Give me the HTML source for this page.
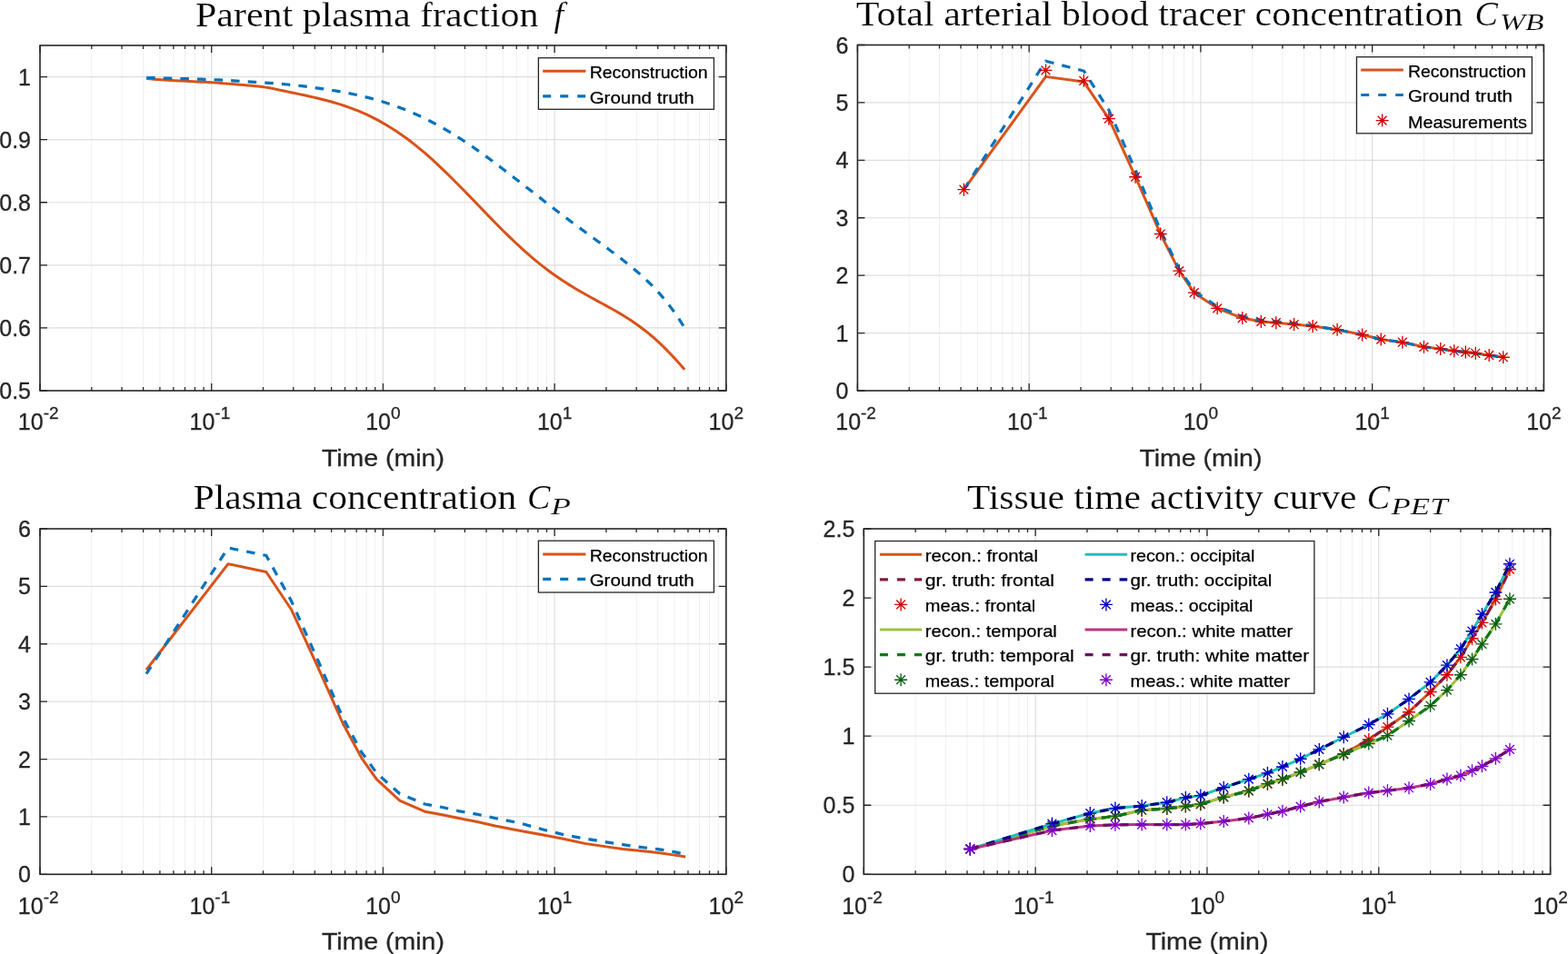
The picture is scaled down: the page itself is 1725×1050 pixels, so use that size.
<!DOCTYPE html>
<html><head><meta charset="utf-8"><title>Figure</title><style>
html,body{margin:0;padding:0;background:#fff;}
body{width:1725px;height:1050px;overflow:hidden;}
svg{display:block;}
.gm{stroke:#f0f0f0;stroke-width:1;}
.gM{stroke:#dedede;stroke-width:1.2;}
.box{fill:none;stroke:#262626;stroke-width:1.6;}
.tk{fill:none;stroke:#262626;stroke-width:1.3;}
.tl{font-family:'Liberation Sans', Arial, sans-serif;font-size:25px;fill:#262626;stroke:#262626;stroke-width:0.3px;}
.sup{font-size:19px;}
.xl{font-family:'Liberation Sans', Arial, sans-serif;font-size:26px;fill:#262626;stroke:#262626;stroke-width:0.3px;}
.ti{font-family:'Liberation Serif', 'Times New Roman', serif;font-size:38px;fill:#000;stroke:#fff;stroke-width:0.2px;}
.it{font-style:italic;}
.sub{font-size:27px;}
.cs{fill:none;stroke-width:3;stroke-linejoin:round;}
.cd{fill:none;stroke-width:3.2;stroke-dasharray:9.5 9.1;}
.st{fill:none;stroke-width:1.35;}
.lgb{fill:#fff;stroke:#262626;stroke-width:1.3;}
.ls{stroke-width:3;}
.ld{stroke-width:3.2;stroke-dasharray:9 10;}
.lt{font-family:'Liberation Sans', Arial, sans-serif;font-size:18.5px;fill:#000;stroke:#000;stroke-width:0.25px;}
</style></head>
<body><svg width="1725" height="1050" viewBox="0 0 1725 1050">
<rect width="1725" height="1050" fill="#fff"/>
<line x1="100.8" y1="50" x2="100.8" y2="430" class="gm"/>
<line x1="134.03" y1="50" x2="134.03" y2="430" class="gm"/>
<line x1="157.61" y1="50" x2="157.61" y2="430" class="gm"/>
<line x1="175.9" y1="50" x2="175.9" y2="430" class="gm"/>
<line x1="190.84" y1="50" x2="190.84" y2="430" class="gm"/>
<line x1="203.47" y1="50" x2="203.47" y2="430" class="gm"/>
<line x1="214.41" y1="50" x2="214.41" y2="430" class="gm"/>
<line x1="224.07" y1="50" x2="224.07" y2="430" class="gm"/>
<line x1="289.5" y1="50" x2="289.5" y2="430" class="gm"/>
<line x1="322.73" y1="50" x2="322.73" y2="430" class="gm"/>
<line x1="346.31" y1="50" x2="346.31" y2="430" class="gm"/>
<line x1="364.6" y1="50" x2="364.6" y2="430" class="gm"/>
<line x1="379.54" y1="50" x2="379.54" y2="430" class="gm"/>
<line x1="392.17" y1="50" x2="392.17" y2="430" class="gm"/>
<line x1="403.11" y1="50" x2="403.11" y2="430" class="gm"/>
<line x1="412.77" y1="50" x2="412.77" y2="430" class="gm"/>
<line x1="478.2" y1="50" x2="478.2" y2="430" class="gm"/>
<line x1="511.43" y1="50" x2="511.43" y2="430" class="gm"/>
<line x1="535.01" y1="50" x2="535.01" y2="430" class="gm"/>
<line x1="553.3" y1="50" x2="553.3" y2="430" class="gm"/>
<line x1="568.24" y1="50" x2="568.24" y2="430" class="gm"/>
<line x1="580.87" y1="50" x2="580.87" y2="430" class="gm"/>
<line x1="591.81" y1="50" x2="591.81" y2="430" class="gm"/>
<line x1="601.47" y1="50" x2="601.47" y2="430" class="gm"/>
<line x1="666.9" y1="50" x2="666.9" y2="430" class="gm"/>
<line x1="700.13" y1="50" x2="700.13" y2="430" class="gm"/>
<line x1="723.71" y1="50" x2="723.71" y2="430" class="gm"/>
<line x1="742" y1="50" x2="742" y2="430" class="gm"/>
<line x1="756.94" y1="50" x2="756.94" y2="430" class="gm"/>
<line x1="769.57" y1="50" x2="769.57" y2="430" class="gm"/>
<line x1="780.51" y1="50" x2="780.51" y2="430" class="gm"/>
<line x1="790.17" y1="50" x2="790.17" y2="430" class="gm"/>
<line x1="232.7" y1="50" x2="232.7" y2="430" class="gM"/>
<line x1="421.4" y1="50" x2="421.4" y2="430" class="gM"/>
<line x1="610.1" y1="50" x2="610.1" y2="430" class="gM"/>
<line x1="44" y1="360.91" x2="798.8" y2="360.91" class="gM"/>
<line x1="44" y1="291.82" x2="798.8" y2="291.82" class="gM"/>
<line x1="44" y1="222.73" x2="798.8" y2="222.73" class="gM"/>
<line x1="44" y1="153.64" x2="798.8" y2="153.64" class="gM"/>
<line x1="44" y1="84.55" x2="798.8" y2="84.55" class="gM"/>
<polyline points="161.2,86.6 165.17,86.87 169.15,87.14 173.12,87.41 177.09,87.67 181.07,87.93 185.04,88.18 189.01,88.42 192.99,88.66 196.96,88.9 200.93,89.12 204.9,89.33 208.88,89.53 212.85,89.73 216.82,89.93 220.8,90.13 224.77,90.34 228.74,90.57 232.72,90.81 236.69,91.07 240.66,91.35 244.64,91.65 248.61,91.96 252.58,92.28 256.56,92.61 260.53,92.94 264.5,93.27 268.48,93.6 272.45,93.93 276.42,94.28 280.39,94.66 284.37,95.08 288.34,95.54 292.31,96.12 296.29,96.82 300.26,97.58 304.23,98.38 308.21,99.2 312.18,100.03 316.15,100.85 320.13,101.67 324.1,102.5 328.07,103.35 332.05,104.2 336.02,105.07 339.99,105.94 343.97,106.84 347.94,107.74 351.91,108.69 355.88,109.68 359.86,110.72 363.83,111.81 367.8,112.94 371.78,114.14 375.75,115.39 379.72,116.71 383.7,118.1 387.67,119.56 391.64,121.1 395.62,122.72 399.59,124.42 403.56,126.21 407.54,128.09 411.51,130.07 415.48,132.14 419.46,134.31 423.43,136.58 427.4,138.95 431.37,141.42 435.35,143.99 439.32,146.67 443.29,149.45 447.27,152.33 451.24,155.32 455.21,158.4 459.19,161.58 463.16,164.85 467.13,168.22 471.11,171.68 475.08,175.22 479.05,178.84 483.03,182.53 487,186.3 490.97,190.13 494.94,194.02 498.92,197.97 502.89,201.96 506.86,205.99 510.84,210.06 514.81,214.15 518.78,218.26 522.76,222.38 526.73,226.51 530.7,230.64 534.68,234.76 538.65,238.86 542.62,242.93 546.6,246.97 550.57,250.98 554.54,254.94 558.52,258.84 562.49,262.69 566.46,266.48 570.43,270.19 574.41,273.84 578.38,277.4 582.35,280.88 586.33,284.28 590.3,287.59 594.27,290.81 598.25,293.94 602.22,296.98 606.19,299.93 610.17,302.79 614.14,305.56 618.11,308.24 622.09,310.85 626.06,313.37 630.03,315.83 634.01,318.21 637.98,320.54 641.95,322.82 645.92,325.05 649.9,327.25 653.87,329.43 657.84,331.59 661.82,333.74 665.79,335.91 669.76,338.09 673.74,340.31 677.71,342.57 681.68,344.89 685.66,347.28 689.63,349.75 693.6,352.31 697.58,354.98 701.55,357.77 705.52,360.68 709.5,363.72 713.47,366.91 717.44,370.24 721.41,373.73 725.39,377.37 729.36,381.16 733.33,385.1 737.31,389.18 741.28,393.4 745.25,397.73 749.23,402.16 753.2,406.67" class="cs" stroke="#d95319"/>
<polyline points="161.2,85.5 165.17,85.61 169.15,85.71 173.12,85.82 177.09,85.93 181.07,86.04 185.04,86.15 189.01,86.27 192.99,86.38 196.96,86.5 200.93,86.61 204.9,86.72 208.88,86.84 212.85,86.95 216.82,87.06 220.8,87.19 224.77,87.31 228.74,87.45 232.72,87.6 236.69,87.77 240.66,87.95 244.64,88.15 248.61,88.36 252.58,88.58 256.56,88.81 260.53,89.05 264.5,89.3 268.48,89.55 272.45,89.81 276.42,90.08 280.39,90.35 284.37,90.62 288.34,90.89 292.31,91.15 296.29,91.41 300.26,91.69 304.23,91.99 308.21,92.31 312.18,92.65 316.15,93.01 320.13,93.39 324.1,93.79 328.07,94.22 332.05,94.67 336.02,95.15 339.99,95.67 343.97,96.21 347.94,96.8 351.91,97.39 355.88,97.95 359.86,98.54 363.83,99.15 367.8,99.79 371.78,100.45 375.75,101.15 379.72,101.88 383.7,102.65 387.67,103.46 391.64,104.3 395.62,105.18 399.59,106.11 403.56,107.09 407.54,108.11 411.51,109.18 415.48,110.3 419.46,111.48 423.43,112.71 427.4,114 431.37,115.34 435.35,116.75 439.32,118.22 443.29,119.74 447.27,121.33 451.24,122.99 455.21,124.71 459.19,126.49 463.16,128.34 467.13,130.26 471.11,132.24 475.08,134.29 479.05,136.4 483.03,138.57 487,140.81 490.97,143.11 494.94,145.48 498.92,147.9 502.89,150.38 506.86,152.92 510.84,155.51 514.81,158.16 518.78,160.85 522.76,163.59 526.73,166.38 530.7,169.22 534.68,172.09 538.65,175 542.62,177.94 546.6,180.91 550.57,183.92 554.54,186.94 558.52,189.99 562.49,193.06 566.46,196.14 570.43,199.24 574.41,202.34 578.38,205.45 582.35,208.56 586.33,211.67 590.3,214.77 594.27,217.87 598.25,220.97 602.22,224.05 606.19,227.12 610.17,230.18 614.14,233.22 618.11,236.24 622.09,239.25 626.06,242.24 630.03,245.22 634.01,248.18 637.98,251.12 641.95,254.05 645.92,256.97 649.9,259.88 653.87,262.78 657.84,265.69 661.82,268.6 665.79,271.52 669.76,274.45 673.74,277.41 677.71,280.4 681.68,283.43 685.66,286.51 689.63,289.65 693.6,292.86 697.58,296.16 701.55,299.56 705.52,303.07 709.5,306.71 713.47,310.49 717.44,314.44 721.41,318.58 725.39,322.92 729.36,327.49 733.33,332.3 737.31,337.39 741.28,342.78 745.25,348.5 749.23,354.57 753.2,361.03" class="cd" stroke="#0072bd"/>
<path d="M44 430v-8M44 50v8M100.8 430v-4M100.8 50v4M134.03 430v-4M134.03 50v4M157.61 430v-4M157.61 50v4M175.9 430v-4M175.9 50v4M190.84 430v-4M190.84 50v4M203.47 430v-4M203.47 50v4M214.41 430v-4M214.41 50v4M224.07 430v-4M224.07 50v4M232.7 430v-8M232.7 50v8M289.5 430v-4M289.5 50v4M322.73 430v-4M322.73 50v4M346.31 430v-4M346.31 50v4M364.6 430v-4M364.6 50v4M379.54 430v-4M379.54 50v4M392.17 430v-4M392.17 50v4M403.11 430v-4M403.11 50v4M412.77 430v-4M412.77 50v4M421.4 430v-8M421.4 50v8M478.2 430v-4M478.2 50v4M511.43 430v-4M511.43 50v4M535.01 430v-4M535.01 50v4M553.3 430v-4M553.3 50v4M568.24 430v-4M568.24 50v4M580.87 430v-4M580.87 50v4M591.81 430v-4M591.81 50v4M601.47 430v-4M601.47 50v4M610.1 430v-8M610.1 50v8M666.9 430v-4M666.9 50v4M700.13 430v-4M700.13 50v4M723.71 430v-4M723.71 50v4M742 430v-4M742 50v4M756.94 430v-4M756.94 50v4M769.57 430v-4M769.57 50v4M780.51 430v-4M780.51 50v4M790.17 430v-4M790.17 50v4M798.8 430v-8M798.8 50v8M44 430h8M798.8 430h-8M44 360.91h8M798.8 360.91h-8M44 291.82h8M798.8 291.82h-8M44 222.73h8M798.8 222.73h-8M44 153.64h8M798.8 153.64h-8M44 84.55h8M798.8 84.55h-8" class="tk"/>
<rect x="44" y="50" width="754.8" height="380" class="box"/>
<text x="34" y="439" class="tl" text-anchor="end">0.5</text>
<text x="34" y="369.91" class="tl" text-anchor="end">0.6</text>
<text x="34" y="300.82" class="tl" text-anchor="end">0.7</text>
<text x="34" y="231.73" class="tl" text-anchor="end">0.8</text>
<text x="34" y="162.64" class="tl" text-anchor="end">0.9</text>
<text x="34" y="93.55" class="tl" text-anchor="end">1</text>
<text x="42.2" y="473.3" class="tl" text-anchor="middle">10<tspan dy="-12" class="sup">-2</tspan></text>
<text x="230.9" y="473.3" class="tl" text-anchor="middle">10<tspan dy="-12" class="sup">-1</tspan></text>
<text x="421.4" y="473.3" class="tl" text-anchor="middle">10<tspan dy="-12" class="sup">0</tspan></text>
<text x="610.1" y="473.3" class="tl" text-anchor="middle">10<tspan dy="-12" class="sup">1</tspan></text>
<text x="798.8" y="473.3" class="tl" text-anchor="middle">10<tspan dy="-12" class="sup">2</tspan></text>
<text x="421.4" y="512.7" class="xl" text-anchor="middle" textLength="135" lengthAdjust="spacingAndGlyphs">Time (min)</text>
<rect x="592.4" y="63.7" width="193" height="56.6" class="lgb"/>
<line x1="597.2" y1="78.2" x2="644.4" y2="78.2" stroke="#d95319" class="ls"/>
<line x1="597.2" y1="105.8" x2="644.4" y2="105.8" stroke="#0072bd" class="ld"/>
<text x="648.7" y="86.1" class="lt" textLength="130" lengthAdjust="spacingAndGlyphs">Reconstruction</text>
<text x="648.7" y="113.7" class="lt" textLength="115" lengthAdjust="spacingAndGlyphs">Ground truth</text>
<line x1="1000.22" y1="49.5" x2="1000.22" y2="430" class="gm"/>
<line x1="1033.46" y1="49.5" x2="1033.46" y2="430" class="gm"/>
<line x1="1057.04" y1="49.5" x2="1057.04" y2="430" class="gm"/>
<line x1="1075.33" y1="49.5" x2="1075.33" y2="430" class="gm"/>
<line x1="1090.28" y1="49.5" x2="1090.28" y2="430" class="gm"/>
<line x1="1102.91" y1="49.5" x2="1102.91" y2="430" class="gm"/>
<line x1="1113.86" y1="49.5" x2="1113.86" y2="430" class="gm"/>
<line x1="1123.51" y1="49.5" x2="1123.51" y2="430" class="gm"/>
<line x1="1188.97" y1="49.5" x2="1188.97" y2="430" class="gm"/>
<line x1="1222.21" y1="49.5" x2="1222.21" y2="430" class="gm"/>
<line x1="1245.79" y1="49.5" x2="1245.79" y2="430" class="gm"/>
<line x1="1264.08" y1="49.5" x2="1264.08" y2="430" class="gm"/>
<line x1="1279.03" y1="49.5" x2="1279.03" y2="430" class="gm"/>
<line x1="1291.66" y1="49.5" x2="1291.66" y2="430" class="gm"/>
<line x1="1302.61" y1="49.5" x2="1302.61" y2="430" class="gm"/>
<line x1="1312.26" y1="49.5" x2="1312.26" y2="430" class="gm"/>
<line x1="1377.72" y1="49.5" x2="1377.72" y2="430" class="gm"/>
<line x1="1410.96" y1="49.5" x2="1410.96" y2="430" class="gm"/>
<line x1="1434.54" y1="49.5" x2="1434.54" y2="430" class="gm"/>
<line x1="1452.83" y1="49.5" x2="1452.83" y2="430" class="gm"/>
<line x1="1467.78" y1="49.5" x2="1467.78" y2="430" class="gm"/>
<line x1="1480.41" y1="49.5" x2="1480.41" y2="430" class="gm"/>
<line x1="1491.36" y1="49.5" x2="1491.36" y2="430" class="gm"/>
<line x1="1501.01" y1="49.5" x2="1501.01" y2="430" class="gm"/>
<line x1="1566.47" y1="49.5" x2="1566.47" y2="430" class="gm"/>
<line x1="1599.71" y1="49.5" x2="1599.71" y2="430" class="gm"/>
<line x1="1623.29" y1="49.5" x2="1623.29" y2="430" class="gm"/>
<line x1="1641.58" y1="49.5" x2="1641.58" y2="430" class="gm"/>
<line x1="1656.53" y1="49.5" x2="1656.53" y2="430" class="gm"/>
<line x1="1669.16" y1="49.5" x2="1669.16" y2="430" class="gm"/>
<line x1="1680.11" y1="49.5" x2="1680.11" y2="430" class="gm"/>
<line x1="1689.76" y1="49.5" x2="1689.76" y2="430" class="gm"/>
<line x1="1132.15" y1="49.5" x2="1132.15" y2="430" class="gM"/>
<line x1="1320.9" y1="49.5" x2="1320.9" y2="430" class="gM"/>
<line x1="1509.65" y1="49.5" x2="1509.65" y2="430" class="gM"/>
<line x1="943.4" y1="366.58" x2="1698.4" y2="366.58" class="gM"/>
<line x1="943.4" y1="303.17" x2="1698.4" y2="303.17" class="gM"/>
<line x1="943.4" y1="239.75" x2="1698.4" y2="239.75" class="gM"/>
<line x1="943.4" y1="176.33" x2="1698.4" y2="176.33" class="gM"/>
<line x1="943.4" y1="112.92" x2="1698.4" y2="112.92" class="gM"/>
<polyline points="1060.39,208.68 1150.44,84.38 1192.32,90.09 1219.9,130.67 1249.14,194.72 1276.72,257.51 1297.32,298.09 1313.77,322.19 1339.19,339.31 1366.77,350.1 1387.37,353.9 1403.82,355.17 1423.59,357.07 1444.19,358.97 1471.12,362.78 1498.7,368.49 1519.31,373.56 1542.89,376.73 1566.47,381.8 1584.76,384.02 1599.71,386.24 1612.34,387.51 1623.29,388.78 1638.23,391 1653.75,393.22" class="cs" stroke="#d95319"/>
<polyline points="1060.39,208.68 1150.44,67.26 1192.32,78.04 1219.9,121.16 1249.14,187.11 1276.72,253.7 1297.32,296.19 1313.77,320.29 1339.19,337.41 1366.77,348.19 1387.37,352.31 1403.82,353.9 1423.59,355.8 1444.19,358.66 1471.12,362.78 1498.7,368.49 1519.31,373.56 1542.89,376.73 1566.47,381.8 1584.76,384.02 1599.71,386.24 1612.34,387.51 1623.29,388.78 1638.23,391 1653.75,393.22" class="cd" stroke="#0072bd"/>
<path d="M1053.39 208.68h14M1060.39 201.68v14M1055.49 203.78l9.8 9.8M1055.49 213.58l9.8 -9.8" stroke="#d40000" class="st"/>
<path d="M1143.44 77.4h14M1150.44 70.4v14M1145.54 72.5l9.8 9.8M1145.54 82.3l9.8 -9.8" stroke="#d40000" class="st"/>
<path d="M1185.32 88.82h14M1192.32 81.82v14M1187.42 83.92l9.8 9.8M1187.42 93.72l9.8 -9.8" stroke="#d40000" class="st"/>
<path d="M1212.9 130.67h14M1219.9 123.67v14M1215 125.77l9.8 9.8M1215 135.57l9.8 -9.8" stroke="#d40000" class="st"/>
<path d="M1242.14 194.72h14M1249.14 187.72v14M1244.24 189.82l9.8 9.8M1244.24 199.62l9.8 -9.8" stroke="#d40000" class="st"/>
<path d="M1269.72 257.51h14M1276.72 250.51v14M1271.82 252.61l9.8 9.8M1271.82 262.41l9.8 -9.8" stroke="#d40000" class="st"/>
<path d="M1290.32 298.09h14M1297.32 291.09v14M1292.42 293.19l9.8 9.8M1292.42 302.99l9.8 -9.8" stroke="#d40000" class="st"/>
<path d="M1306.77 322.19h14M1313.77 315.19v14M1308.87 317.29l9.8 9.8M1308.87 327.09l9.8 -9.8" stroke="#d40000" class="st"/>
<path d="M1332.19 339.31h14M1339.19 332.31v14M1334.29 334.41l9.8 9.8M1334.29 344.21l9.8 -9.8" stroke="#d40000" class="st"/>
<path d="M1359.77 350.1h14M1366.77 343.1v14M1361.87 345.2l9.8 9.8M1361.87 355l9.8 -9.8" stroke="#d40000" class="st"/>
<path d="M1380.37 353.9h14M1387.37 346.9v14M1382.47 349l9.8 9.8M1382.47 358.8l9.8 -9.8" stroke="#d40000" class="st"/>
<path d="M1396.82 355.17h14M1403.82 348.17v14M1398.92 350.27l9.8 9.8M1398.92 360.07l9.8 -9.8" stroke="#d40000" class="st"/>
<path d="M1416.59 357.07h14M1423.59 350.07v14M1418.69 352.17l9.8 9.8M1418.69 361.97l9.8 -9.8" stroke="#d40000" class="st"/>
<path d="M1437.19 358.97h14M1444.19 351.97v14M1439.29 354.07l9.8 9.8M1439.29 363.87l9.8 -9.8" stroke="#d40000" class="st"/>
<path d="M1464.12 362.78h14M1471.12 355.78v14M1466.22 357.88l9.8 9.8M1466.22 367.68l9.8 -9.8" stroke="#d40000" class="st"/>
<path d="M1491.7 368.49h14M1498.7 361.49v14M1493.8 363.59l9.8 9.8M1493.8 373.39l9.8 -9.8" stroke="#d40000" class="st"/>
<path d="M1512.31 373.56h14M1519.31 366.56v14M1514.41 368.66l9.8 9.8M1514.41 378.46l9.8 -9.8" stroke="#d40000" class="st"/>
<path d="M1535.89 376.73h14M1542.89 369.73v14M1537.99 371.83l9.8 9.8M1537.99 381.63l9.8 -9.8" stroke="#d40000" class="st"/>
<path d="M1559.47 381.8h14M1566.47 374.8v14M1561.57 376.9l9.8 9.8M1561.57 386.7l9.8 -9.8" stroke="#d40000" class="st"/>
<path d="M1577.76 384.02h14M1584.76 377.02v14M1579.86 379.12l9.8 9.8M1579.86 388.92l9.8 -9.8" stroke="#d40000" class="st"/>
<path d="M1592.71 386.24h14M1599.71 379.24v14M1594.81 381.34l9.8 9.8M1594.81 391.14l9.8 -9.8" stroke="#d40000" class="st"/>
<path d="M1605.34 387.51h14M1612.34 380.51v14M1607.44 382.61l9.8 9.8M1607.44 392.41l9.8 -9.8" stroke="#d40000" class="st"/>
<path d="M1616.29 388.78h14M1623.29 381.78v14M1618.39 383.88l9.8 9.8M1618.39 393.68l9.8 -9.8" stroke="#d40000" class="st"/>
<path d="M1631.23 391h14M1638.23 384v14M1633.33 386.1l9.8 9.8M1633.33 395.9l9.8 -9.8" stroke="#d40000" class="st"/>
<path d="M1646.75 393.22h14M1653.75 386.22v14M1648.85 388.32l9.8 9.8M1648.85 398.12l9.8 -9.8" stroke="#d40000" class="st"/>
<path d="M943.4 430v-8M943.4 49.5v8M1000.22 430v-4M1000.22 49.5v4M1033.46 430v-4M1033.46 49.5v4M1057.04 430v-4M1057.04 49.5v4M1075.33 430v-4M1075.33 49.5v4M1090.28 430v-4M1090.28 49.5v4M1102.91 430v-4M1102.91 49.5v4M1113.86 430v-4M1113.86 49.5v4M1123.51 430v-4M1123.51 49.5v4M1132.15 430v-8M1132.15 49.5v8M1188.97 430v-4M1188.97 49.5v4M1222.21 430v-4M1222.21 49.5v4M1245.79 430v-4M1245.79 49.5v4M1264.08 430v-4M1264.08 49.5v4M1279.03 430v-4M1279.03 49.5v4M1291.66 430v-4M1291.66 49.5v4M1302.61 430v-4M1302.61 49.5v4M1312.26 430v-4M1312.26 49.5v4M1320.9 430v-8M1320.9 49.5v8M1377.72 430v-4M1377.72 49.5v4M1410.96 430v-4M1410.96 49.5v4M1434.54 430v-4M1434.54 49.5v4M1452.83 430v-4M1452.83 49.5v4M1467.78 430v-4M1467.78 49.5v4M1480.41 430v-4M1480.41 49.5v4M1491.36 430v-4M1491.36 49.5v4M1501.01 430v-4M1501.01 49.5v4M1509.65 430v-8M1509.65 49.5v8M1566.47 430v-4M1566.47 49.5v4M1599.71 430v-4M1599.71 49.5v4M1623.29 430v-4M1623.29 49.5v4M1641.58 430v-4M1641.58 49.5v4M1656.53 430v-4M1656.53 49.5v4M1669.16 430v-4M1669.16 49.5v4M1680.11 430v-4M1680.11 49.5v4M1689.76 430v-4M1689.76 49.5v4M1698.4 430v-8M1698.4 49.5v8M943.4 430h8M1698.4 430h-8M943.4 366.58h8M1698.4 366.58h-8M943.4 303.17h8M1698.4 303.17h-8M943.4 239.75h8M1698.4 239.75h-8M943.4 176.33h8M1698.4 176.33h-8M943.4 112.92h8M1698.4 112.92h-8M943.4 49.5h8M1698.4 49.5h-8" class="tk"/>
<rect x="943.4" y="49.5" width="755" height="380.5" class="box"/>
<text x="933.4" y="439" class="tl" text-anchor="end">0</text>
<text x="933.4" y="375.58" class="tl" text-anchor="end">1</text>
<text x="933.4" y="312.17" class="tl" text-anchor="end">2</text>
<text x="933.4" y="248.75" class="tl" text-anchor="end">3</text>
<text x="933.4" y="185.33" class="tl" text-anchor="end">4</text>
<text x="933.4" y="121.92" class="tl" text-anchor="end">5</text>
<text x="933.4" y="58.5" class="tl" text-anchor="end">6</text>
<text x="941.6" y="473.3" class="tl" text-anchor="middle">10<tspan dy="-12" class="sup">-2</tspan></text>
<text x="1130.35" y="473.3" class="tl" text-anchor="middle">10<tspan dy="-12" class="sup">-1</tspan></text>
<text x="1320.9" y="473.3" class="tl" text-anchor="middle">10<tspan dy="-12" class="sup">0</tspan></text>
<text x="1509.65" y="473.3" class="tl" text-anchor="middle">10<tspan dy="-12" class="sup">1</tspan></text>
<text x="1698.4" y="473.3" class="tl" text-anchor="middle">10<tspan dy="-12" class="sup">2</tspan></text>
<text x="1320.9" y="512.7" class="xl" text-anchor="middle" textLength="135" lengthAdjust="spacingAndGlyphs">Time (min)</text>
<rect x="1492.5" y="62.7" width="192.9" height="84.1" class="lgb"/>
<line x1="1497.2" y1="76.9" x2="1543.8" y2="76.9" stroke="#d95319" class="ls"/>
<line x1="1497.2" y1="104.5" x2="1543.8" y2="104.5" stroke="#0072bd" class="ld"/>
<path d="M1513.6 132.6h14M1520.6 125.6v14M1515.7 127.7l9.8 9.8M1515.7 137.5l9.8 -9.8" stroke="#d40000" class="st"/>
<text x="1548.9" y="84.8" class="lt" textLength="130" lengthAdjust="spacingAndGlyphs">Reconstruction</text>
<text x="1548.9" y="112.4" class="lt" textLength="115" lengthAdjust="spacingAndGlyphs">Ground truth</text>
<text x="1548.9" y="140.6" class="lt" textLength="131" lengthAdjust="spacingAndGlyphs">Measurements</text>
<line x1="100.8" y1="582" x2="100.8" y2="962.3" class="gm"/>
<line x1="134.03" y1="582" x2="134.03" y2="962.3" class="gm"/>
<line x1="157.61" y1="582" x2="157.61" y2="962.3" class="gm"/>
<line x1="175.9" y1="582" x2="175.9" y2="962.3" class="gm"/>
<line x1="190.84" y1="582" x2="190.84" y2="962.3" class="gm"/>
<line x1="203.47" y1="582" x2="203.47" y2="962.3" class="gm"/>
<line x1="214.41" y1="582" x2="214.41" y2="962.3" class="gm"/>
<line x1="224.07" y1="582" x2="224.07" y2="962.3" class="gm"/>
<line x1="289.5" y1="582" x2="289.5" y2="962.3" class="gm"/>
<line x1="322.73" y1="582" x2="322.73" y2="962.3" class="gm"/>
<line x1="346.31" y1="582" x2="346.31" y2="962.3" class="gm"/>
<line x1="364.6" y1="582" x2="364.6" y2="962.3" class="gm"/>
<line x1="379.54" y1="582" x2="379.54" y2="962.3" class="gm"/>
<line x1="392.17" y1="582" x2="392.17" y2="962.3" class="gm"/>
<line x1="403.11" y1="582" x2="403.11" y2="962.3" class="gm"/>
<line x1="412.77" y1="582" x2="412.77" y2="962.3" class="gm"/>
<line x1="478.2" y1="582" x2="478.2" y2="962.3" class="gm"/>
<line x1="511.43" y1="582" x2="511.43" y2="962.3" class="gm"/>
<line x1="535.01" y1="582" x2="535.01" y2="962.3" class="gm"/>
<line x1="553.3" y1="582" x2="553.3" y2="962.3" class="gm"/>
<line x1="568.24" y1="582" x2="568.24" y2="962.3" class="gm"/>
<line x1="580.87" y1="582" x2="580.87" y2="962.3" class="gm"/>
<line x1="591.81" y1="582" x2="591.81" y2="962.3" class="gm"/>
<line x1="601.47" y1="582" x2="601.47" y2="962.3" class="gm"/>
<line x1="666.9" y1="582" x2="666.9" y2="962.3" class="gm"/>
<line x1="700.13" y1="582" x2="700.13" y2="962.3" class="gm"/>
<line x1="723.71" y1="582" x2="723.71" y2="962.3" class="gm"/>
<line x1="742" y1="582" x2="742" y2="962.3" class="gm"/>
<line x1="756.94" y1="582" x2="756.94" y2="962.3" class="gm"/>
<line x1="769.57" y1="582" x2="769.57" y2="962.3" class="gm"/>
<line x1="780.51" y1="582" x2="780.51" y2="962.3" class="gm"/>
<line x1="790.17" y1="582" x2="790.17" y2="962.3" class="gm"/>
<line x1="232.7" y1="582" x2="232.7" y2="962.3" class="gM"/>
<line x1="421.4" y1="582" x2="421.4" y2="962.3" class="gM"/>
<line x1="610.1" y1="582" x2="610.1" y2="962.3" class="gM"/>
<line x1="44" y1="898.92" x2="798.8" y2="898.92" class="gM"/>
<line x1="44" y1="835.53" x2="798.8" y2="835.53" class="gM"/>
<line x1="44" y1="772.15" x2="798.8" y2="772.15" class="gM"/>
<line x1="44" y1="708.77" x2="798.8" y2="708.77" class="gM"/>
<line x1="44" y1="645.38" x2="798.8" y2="645.38" class="gM"/>
<polyline points="160.95,737.29 250.99,620.66 292.85,629.54 320.42,670.74 349.65,734.12 377.23,796.24 397.82,834.27 414.27,857.72 439.69,881.17 467.26,893.21 487.86,897.02 504.3,900.5 524.07,904.3 544.66,909.06 571.58,914.32 599.16,919.26 619.75,923.26 643.33,928.39 666.9,931.88 685.19,934.47 700.13,936 712.77,937.2 723.71,938.47 738.65,940.62 754.16,942.9" class="cs" stroke="#d95319"/>
<polyline points="160.95,741.73 250.99,602.92 292.85,611.47 320.42,661.23 349.65,726.51 377.23,789.9 397.82,827.93 414.27,850.75 439.69,873.56 467.26,884.97 487.86,888.78 504.3,892.58 524.07,896.06 544.66,900.5 571.58,905.89 599.16,913.49 619.75,918.57 643.33,923 666.9,926.81 685.19,929.66 700.13,931.88 712.77,933.33 723.71,934.6 738.65,936.95 754.16,940.24" class="cd" stroke="#0072bd"/>
<path d="M44 962.3v-8M44 582v8M100.8 962.3v-4M100.8 582v4M134.03 962.3v-4M134.03 582v4M157.61 962.3v-4M157.61 582v4M175.9 962.3v-4M175.9 582v4M190.84 962.3v-4M190.84 582v4M203.47 962.3v-4M203.47 582v4M214.41 962.3v-4M214.41 582v4M224.07 962.3v-4M224.07 582v4M232.7 962.3v-8M232.7 582v8M289.5 962.3v-4M289.5 582v4M322.73 962.3v-4M322.73 582v4M346.31 962.3v-4M346.31 582v4M364.6 962.3v-4M364.6 582v4M379.54 962.3v-4M379.54 582v4M392.17 962.3v-4M392.17 582v4M403.11 962.3v-4M403.11 582v4M412.77 962.3v-4M412.77 582v4M421.4 962.3v-8M421.4 582v8M478.2 962.3v-4M478.2 582v4M511.43 962.3v-4M511.43 582v4M535.01 962.3v-4M535.01 582v4M553.3 962.3v-4M553.3 582v4M568.24 962.3v-4M568.24 582v4M580.87 962.3v-4M580.87 582v4M591.81 962.3v-4M591.81 582v4M601.47 962.3v-4M601.47 582v4M610.1 962.3v-8M610.1 582v8M666.9 962.3v-4M666.9 582v4M700.13 962.3v-4M700.13 582v4M723.71 962.3v-4M723.71 582v4M742 962.3v-4M742 582v4M756.94 962.3v-4M756.94 582v4M769.57 962.3v-4M769.57 582v4M780.51 962.3v-4M780.51 582v4M790.17 962.3v-4M790.17 582v4M798.8 962.3v-8M798.8 582v8M44 962.3h8M798.8 962.3h-8M44 898.92h8M798.8 898.92h-8M44 835.53h8M798.8 835.53h-8M44 772.15h8M798.8 772.15h-8M44 708.77h8M798.8 708.77h-8M44 645.38h8M798.8 645.38h-8M44 582h8M798.8 582h-8" class="tk"/>
<rect x="44" y="582" width="754.8" height="380.3" class="box"/>
<text x="34" y="971.3" class="tl" text-anchor="end">0</text>
<text x="34" y="907.92" class="tl" text-anchor="end">1</text>
<text x="34" y="844.53" class="tl" text-anchor="end">2</text>
<text x="34" y="781.15" class="tl" text-anchor="end">3</text>
<text x="34" y="717.77" class="tl" text-anchor="end">4</text>
<text x="34" y="654.38" class="tl" text-anchor="end">5</text>
<text x="34" y="591" class="tl" text-anchor="end">6</text>
<text x="42.2" y="1005.6" class="tl" text-anchor="middle">10<tspan dy="-12" class="sup">-2</tspan></text>
<text x="230.9" y="1005.6" class="tl" text-anchor="middle">10<tspan dy="-12" class="sup">-1</tspan></text>
<text x="421.4" y="1005.6" class="tl" text-anchor="middle">10<tspan dy="-12" class="sup">0</tspan></text>
<text x="610.1" y="1005.6" class="tl" text-anchor="middle">10<tspan dy="-12" class="sup">1</tspan></text>
<text x="798.8" y="1005.6" class="tl" text-anchor="middle">10<tspan dy="-12" class="sup">2</tspan></text>
<text x="421.4" y="1045" class="xl" text-anchor="middle" textLength="135" lengthAdjust="spacingAndGlyphs">Time (min)</text>
<rect x="592.4" y="595.2" width="193" height="56.8" class="lgb"/>
<line x1="597.2" y1="609.9" x2="644.4" y2="609.9" stroke="#d95319" class="ls"/>
<line x1="597.2" y1="637.3" x2="644.4" y2="637.3" stroke="#0072bd" class="ld"/>
<text x="648.7" y="617.8" class="lt" textLength="130" lengthAdjust="spacingAndGlyphs">Reconstruction</text>
<text x="648.7" y="645.2" class="lt" textLength="115" lengthAdjust="spacingAndGlyphs">Ground truth</text>
<line x1="1007.14" y1="582" x2="1007.14" y2="962.3" class="gm"/>
<line x1="1040.39" y1="582" x2="1040.39" y2="962.3" class="gm"/>
<line x1="1063.98" y1="582" x2="1063.98" y2="962.3" class="gm"/>
<line x1="1082.28" y1="582" x2="1082.28" y2="962.3" class="gm"/>
<line x1="1097.23" y1="582" x2="1097.23" y2="962.3" class="gm"/>
<line x1="1109.88" y1="582" x2="1109.88" y2="962.3" class="gm"/>
<line x1="1120.83" y1="582" x2="1120.83" y2="962.3" class="gm"/>
<line x1="1130.48" y1="582" x2="1130.48" y2="962.3" class="gm"/>
<line x1="1195.97" y1="582" x2="1195.97" y2="962.3" class="gm"/>
<line x1="1229.22" y1="582" x2="1229.22" y2="962.3" class="gm"/>
<line x1="1252.81" y1="582" x2="1252.81" y2="962.3" class="gm"/>
<line x1="1271.11" y1="582" x2="1271.11" y2="962.3" class="gm"/>
<line x1="1286.06" y1="582" x2="1286.06" y2="962.3" class="gm"/>
<line x1="1298.7" y1="582" x2="1298.7" y2="962.3" class="gm"/>
<line x1="1309.65" y1="582" x2="1309.65" y2="962.3" class="gm"/>
<line x1="1319.31" y1="582" x2="1319.31" y2="962.3" class="gm"/>
<line x1="1384.79" y1="582" x2="1384.79" y2="962.3" class="gm"/>
<line x1="1418.04" y1="582" x2="1418.04" y2="962.3" class="gm"/>
<line x1="1441.63" y1="582" x2="1441.63" y2="962.3" class="gm"/>
<line x1="1459.93" y1="582" x2="1459.93" y2="962.3" class="gm"/>
<line x1="1474.88" y1="582" x2="1474.88" y2="962.3" class="gm"/>
<line x1="1487.53" y1="582" x2="1487.53" y2="962.3" class="gm"/>
<line x1="1498.48" y1="582" x2="1498.48" y2="962.3" class="gm"/>
<line x1="1508.13" y1="582" x2="1508.13" y2="962.3" class="gm"/>
<line x1="1573.62" y1="582" x2="1573.62" y2="962.3" class="gm"/>
<line x1="1606.87" y1="582" x2="1606.87" y2="962.3" class="gm"/>
<line x1="1630.46" y1="582" x2="1630.46" y2="962.3" class="gm"/>
<line x1="1648.76" y1="582" x2="1648.76" y2="962.3" class="gm"/>
<line x1="1663.71" y1="582" x2="1663.71" y2="962.3" class="gm"/>
<line x1="1676.35" y1="582" x2="1676.35" y2="962.3" class="gm"/>
<line x1="1687.3" y1="582" x2="1687.3" y2="962.3" class="gm"/>
<line x1="1696.96" y1="582" x2="1696.96" y2="962.3" class="gm"/>
<line x1="1139.12" y1="582" x2="1139.12" y2="962.3" class="gM"/>
<line x1="1327.95" y1="582" x2="1327.95" y2="962.3" class="gM"/>
<line x1="1516.77" y1="582" x2="1516.77" y2="962.3" class="gM"/>
<line x1="950.3" y1="886.24" x2="1705.6" y2="886.24" class="gM"/>
<line x1="950.3" y1="810.18" x2="1705.6" y2="810.18" class="gM"/>
<line x1="950.3" y1="734.12" x2="1705.6" y2="734.12" class="gM"/>
<line x1="950.3" y1="658.06" x2="1705.6" y2="658.06" class="gM"/>
<polyline points="1067.33,934.46 1157.42,909.06 1199.31,901.45 1226.91,898.41 1256.16,891.72 1283.75,889.89 1304.36,887.46 1320.81,885.18 1346.25,877.42 1373.84,870.42 1394.45,862.66 1410.91,857.64 1430.68,849.88 1451.29,841.36 1478.23,829.65 1505.82,813.98 1526.43,800.14 1550.03,783.71 1573.62,761.5 1591.92,742.79 1606.87,723.32 1619.51,702.78 1630.46,685.44 1645.41,659.58 1660.93,626.72" class="cs" stroke="#d95319"/>
<polyline points="1067.33,934.46 1157.42,909.06 1199.31,901.45 1226.91,898.41 1256.16,891.72 1283.75,889.89 1304.36,887.46 1320.81,885.18 1346.25,877.42 1373.84,870.42 1394.45,862.66 1410.91,857.64 1430.68,849.88 1451.29,841.36 1478.23,829.65 1505.82,813.98 1526.43,800.14 1550.03,783.71 1573.62,761.5 1591.92,742.79 1606.87,723.32 1619.51,702.78 1630.46,685.44 1645.41,659.58 1660.93,626.72" class="cd" stroke="#821a3e"/>
<path d="M1060.33 934.46h14M1067.33 927.46v14M1062.43 929.56l9.8 9.8M1062.43 939.36l9.8 -9.8" stroke="#d40000" class="st"/>
<path d="M1150.42 909.06h14M1157.42 902.06v14M1152.52 904.16l9.8 9.8M1152.52 913.96l9.8 -9.8" stroke="#d40000" class="st"/>
<path d="M1192.31 901.45h14M1199.31 894.45v14M1194.41 896.55l9.8 9.8M1194.41 906.35l9.8 -9.8" stroke="#d40000" class="st"/>
<path d="M1219.91 898.41h14M1226.91 891.41v14M1222.01 893.51l9.8 9.8M1222.01 903.31l9.8 -9.8" stroke="#d40000" class="st"/>
<path d="M1249.16 891.72h14M1256.16 884.72v14M1251.26 886.82l9.8 9.8M1251.26 896.62l9.8 -9.8" stroke="#d40000" class="st"/>
<path d="M1276.75 889.89h14M1283.75 882.89v14M1278.85 884.99l9.8 9.8M1278.85 894.79l9.8 -9.8" stroke="#d40000" class="st"/>
<path d="M1297.36 887.46h14M1304.36 880.46v14M1299.46 882.56l9.8 9.8M1299.46 892.36l9.8 -9.8" stroke="#d40000" class="st"/>
<path d="M1313.81 885.18h14M1320.81 878.18v14M1315.91 880.28l9.8 9.8M1315.91 890.08l9.8 -9.8" stroke="#d40000" class="st"/>
<path d="M1339.25 877.42h14M1346.25 870.42v14M1341.35 872.52l9.8 9.8M1341.35 882.32l9.8 -9.8" stroke="#d40000" class="st"/>
<path d="M1366.84 870.42h14M1373.84 863.42v14M1368.94 865.52l9.8 9.8M1368.94 875.32l9.8 -9.8" stroke="#d40000" class="st"/>
<path d="M1387.45 862.66h14M1394.45 855.66v14M1389.55 857.76l9.8 9.8M1389.55 867.56l9.8 -9.8" stroke="#d40000" class="st"/>
<path d="M1403.91 857.64h14M1410.91 850.64v14M1406.01 852.74l9.8 9.8M1406.01 862.54l9.8 -9.8" stroke="#d40000" class="st"/>
<path d="M1423.68 849.88h14M1430.68 842.88v14M1425.78 844.98l9.8 9.8M1425.78 854.78l9.8 -9.8" stroke="#d40000" class="st"/>
<path d="M1444.29 841.36h14M1451.29 834.36v14M1446.39 836.46l9.8 9.8M1446.39 846.26l9.8 -9.8" stroke="#d40000" class="st"/>
<path d="M1471.23 829.65h14M1478.23 822.65v14M1473.33 824.75l9.8 9.8M1473.33 834.55l9.8 -9.8" stroke="#d40000" class="st"/>
<path d="M1498.82 813.98h14M1505.82 806.98v14M1500.92 809.08l9.8 9.8M1500.92 818.88l9.8 -9.8" stroke="#d40000" class="st"/>
<path d="M1519.43 800.14h14M1526.43 793.14v14M1521.53 795.24l9.8 9.8M1521.53 805.04l9.8 -9.8" stroke="#d40000" class="st"/>
<path d="M1543.03 783.71h14M1550.03 776.71v14M1545.13 778.81l9.8 9.8M1545.13 788.61l9.8 -9.8" stroke="#d40000" class="st"/>
<path d="M1566.62 761.5h14M1573.62 754.5v14M1568.72 756.6l9.8 9.8M1568.72 766.4l9.8 -9.8" stroke="#d40000" class="st"/>
<path d="M1584.92 742.79h14M1591.92 735.79v14M1587.02 737.89l9.8 9.8M1587.02 747.69l9.8 -9.8" stroke="#d40000" class="st"/>
<path d="M1599.87 723.32h14M1606.87 716.32v14M1601.97 718.42l9.8 9.8M1601.97 728.22l9.8 -9.8" stroke="#d40000" class="st"/>
<path d="M1612.51 702.78h14M1619.51 695.78v14M1614.61 697.88l9.8 9.8M1614.61 707.68l9.8 -9.8" stroke="#d40000" class="st"/>
<path d="M1623.46 685.44h14M1630.46 678.44v14M1625.56 680.54l9.8 9.8M1625.56 690.34l9.8 -9.8" stroke="#d40000" class="st"/>
<path d="M1638.41 659.58h14M1645.41 652.58v14M1640.51 654.68l9.8 9.8M1640.51 664.48l9.8 -9.8" stroke="#d40000" class="st"/>
<path d="M1653.93 626.72h14M1660.93 619.72v14M1656.03 621.82l9.8 9.8M1656.03 631.62l9.8 -9.8" stroke="#d40000" class="st"/>
<polyline points="1067.33,934.46 1157.42,909.06 1199.31,901.45 1226.91,898.41 1256.16,891.72 1283.75,889.89 1304.36,887.46 1320.81,885.18 1346.25,877.42 1373.84,870.42 1394.45,862.66 1410.91,857.64 1430.68,849.88 1451.29,841.36 1478.23,830.26 1505.82,818.55 1526.43,809.57 1550.03,793.45 1573.62,776.71 1591.92,759.68 1606.87,742.79 1619.51,725.45 1630.46,708.87 1645.41,686.81 1660.93,659.28" class="cs" stroke="#9ec040"/>
<polyline points="1067.33,934.46 1157.42,909.06 1199.31,901.45 1226.91,898.41 1256.16,891.72 1283.75,889.89 1304.36,887.46 1320.81,885.18 1346.25,877.42 1373.84,870.42 1394.45,862.66 1410.91,857.64 1430.68,849.88 1451.29,841.36 1478.23,830.26 1505.82,818.55 1526.43,809.57 1550.03,793.45 1573.62,776.71 1591.92,759.68 1606.87,742.79 1619.51,725.45 1630.46,708.87 1645.41,686.81 1660.93,659.28" class="cd" stroke="#0a7a1a"/>
<path d="M1060.33 934.46h14M1067.33 927.46v14M1062.43 929.56l9.8 9.8M1062.43 939.36l9.8 -9.8" stroke="#0b5e14" class="st"/>
<path d="M1150.42 909.06h14M1157.42 902.06v14M1152.52 904.16l9.8 9.8M1152.52 913.96l9.8 -9.8" stroke="#0b5e14" class="st"/>
<path d="M1192.31 901.45h14M1199.31 894.45v14M1194.41 896.55l9.8 9.8M1194.41 906.35l9.8 -9.8" stroke="#0b5e14" class="st"/>
<path d="M1219.91 898.41h14M1226.91 891.41v14M1222.01 893.51l9.8 9.8M1222.01 903.31l9.8 -9.8" stroke="#0b5e14" class="st"/>
<path d="M1249.16 891.72h14M1256.16 884.72v14M1251.26 886.82l9.8 9.8M1251.26 896.62l9.8 -9.8" stroke="#0b5e14" class="st"/>
<path d="M1276.75 889.89h14M1283.75 882.89v14M1278.85 884.99l9.8 9.8M1278.85 894.79l9.8 -9.8" stroke="#0b5e14" class="st"/>
<path d="M1297.36 887.46h14M1304.36 880.46v14M1299.46 882.56l9.8 9.8M1299.46 892.36l9.8 -9.8" stroke="#0b5e14" class="st"/>
<path d="M1313.81 885.18h14M1320.81 878.18v14M1315.91 880.28l9.8 9.8M1315.91 890.08l9.8 -9.8" stroke="#0b5e14" class="st"/>
<path d="M1339.25 877.42h14M1346.25 870.42v14M1341.35 872.52l9.8 9.8M1341.35 882.32l9.8 -9.8" stroke="#0b5e14" class="st"/>
<path d="M1366.84 870.42h14M1373.84 863.42v14M1368.94 865.52l9.8 9.8M1368.94 875.32l9.8 -9.8" stroke="#0b5e14" class="st"/>
<path d="M1387.45 862.66h14M1394.45 855.66v14M1389.55 857.76l9.8 9.8M1389.55 867.56l9.8 -9.8" stroke="#0b5e14" class="st"/>
<path d="M1403.91 857.64h14M1410.91 850.64v14M1406.01 852.74l9.8 9.8M1406.01 862.54l9.8 -9.8" stroke="#0b5e14" class="st"/>
<path d="M1423.68 849.88h14M1430.68 842.88v14M1425.78 844.98l9.8 9.8M1425.78 854.78l9.8 -9.8" stroke="#0b5e14" class="st"/>
<path d="M1444.29 841.36h14M1451.29 834.36v14M1446.39 836.46l9.8 9.8M1446.39 846.26l9.8 -9.8" stroke="#0b5e14" class="st"/>
<path d="M1471.23 830.26h14M1478.23 823.26v14M1473.33 825.36l9.8 9.8M1473.33 835.16l9.8 -9.8" stroke="#0b5e14" class="st"/>
<path d="M1498.82 818.55h14M1505.82 811.55v14M1500.92 813.65l9.8 9.8M1500.92 823.45l9.8 -9.8" stroke="#0b5e14" class="st"/>
<path d="M1519.43 809.57h14M1526.43 802.57v14M1521.53 804.67l9.8 9.8M1521.53 814.47l9.8 -9.8" stroke="#0b5e14" class="st"/>
<path d="M1543.03 793.45h14M1550.03 786.45v14M1545.13 788.55l9.8 9.8M1545.13 798.35l9.8 -9.8" stroke="#0b5e14" class="st"/>
<path d="M1566.62 776.71h14M1573.62 769.71v14M1568.72 771.81l9.8 9.8M1568.72 781.61l9.8 -9.8" stroke="#0b5e14" class="st"/>
<path d="M1584.92 759.68h14M1591.92 752.68v14M1587.02 754.78l9.8 9.8M1587.02 764.58l9.8 -9.8" stroke="#0b5e14" class="st"/>
<path d="M1599.87 742.79h14M1606.87 735.79v14M1601.97 737.89l9.8 9.8M1601.97 747.69l9.8 -9.8" stroke="#0b5e14" class="st"/>
<path d="M1612.51 725.45h14M1619.51 718.45v14M1614.61 720.55l9.8 9.8M1614.61 730.35l9.8 -9.8" stroke="#0b5e14" class="st"/>
<path d="M1623.46 708.87h14M1630.46 701.87v14M1625.56 703.97l9.8 9.8M1625.56 713.77l9.8 -9.8" stroke="#0b5e14" class="st"/>
<path d="M1638.41 686.81h14M1645.41 679.81v14M1640.51 681.91l9.8 9.8M1640.51 691.71l9.8 -9.8" stroke="#0b5e14" class="st"/>
<path d="M1653.93 659.28h14M1660.93 652.28v14M1656.03 654.38l9.8 9.8M1656.03 664.18l9.8 -9.8" stroke="#0b5e14" class="st"/>
<polyline points="1067.33,934.46 1157.42,906.62 1199.31,895.06 1226.91,889.59 1256.16,887 1283.75,883.2 1304.36,877.87 1320.81,875.59 1346.25,866.77 1373.84,857.64 1394.45,850.8 1410.91,843.95 1430.68,835.28 1451.29,824.94 1478.23,811.24 1505.82,797.55 1526.43,785.84 1550.03,769.41 1573.62,750.85 1591.92,732.14 1606.87,714.19 1619.51,694.72 1630.46,676.01 1645.41,651.98 1660.93,620.79" class="cs" stroke="#1cc0bc"/>
<polyline points="1067.33,934.46 1157.42,906.62 1199.31,895.06 1226.91,889.59 1256.16,887 1283.75,883.2 1304.36,877.87 1320.81,875.59 1346.25,866.77 1373.84,857.64 1394.45,850.8 1410.91,843.95 1430.68,835.28 1451.29,824.94 1478.23,811.24 1505.82,797.55 1526.43,785.84 1550.03,769.41 1573.62,750.85 1591.92,732.14 1606.87,714.19 1619.51,694.72 1630.46,676.01 1645.41,651.98 1660.93,620.79" class="cd" stroke="#000080"/>
<path d="M1060.33 934.46h14M1067.33 927.46v14M1062.43 929.56l9.8 9.8M1062.43 939.36l9.8 -9.8" stroke="#0000c8" class="st"/>
<path d="M1150.42 906.62h14M1157.42 899.62v14M1152.52 901.72l9.8 9.8M1152.52 911.52l9.8 -9.8" stroke="#0000c8" class="st"/>
<path d="M1192.31 895.06h14M1199.31 888.06v14M1194.41 890.16l9.8 9.8M1194.41 899.96l9.8 -9.8" stroke="#0000c8" class="st"/>
<path d="M1219.91 889.59h14M1226.91 882.59v14M1222.01 884.69l9.8 9.8M1222.01 894.49l9.8 -9.8" stroke="#0000c8" class="st"/>
<path d="M1249.16 887h14M1256.16 880v14M1251.26 882.1l9.8 9.8M1251.26 891.9l9.8 -9.8" stroke="#0000c8" class="st"/>
<path d="M1276.75 883.2h14M1283.75 876.2v14M1278.85 878.3l9.8 9.8M1278.85 888.1l9.8 -9.8" stroke="#0000c8" class="st"/>
<path d="M1297.36 877.87h14M1304.36 870.87v14M1299.46 872.97l9.8 9.8M1299.46 882.77l9.8 -9.8" stroke="#0000c8" class="st"/>
<path d="M1313.81 875.59h14M1320.81 868.59v14M1315.91 870.69l9.8 9.8M1315.91 880.49l9.8 -9.8" stroke="#0000c8" class="st"/>
<path d="M1339.25 866.77h14M1346.25 859.77v14M1341.35 861.87l9.8 9.8M1341.35 871.67l9.8 -9.8" stroke="#0000c8" class="st"/>
<path d="M1366.84 857.64h14M1373.84 850.64v14M1368.94 852.74l9.8 9.8M1368.94 862.54l9.8 -9.8" stroke="#0000c8" class="st"/>
<path d="M1387.45 850.8h14M1394.45 843.8v14M1389.55 845.9l9.8 9.8M1389.55 855.7l9.8 -9.8" stroke="#0000c8" class="st"/>
<path d="M1403.91 843.95h14M1410.91 836.95v14M1406.01 839.05l9.8 9.8M1406.01 848.85l9.8 -9.8" stroke="#0000c8" class="st"/>
<path d="M1423.68 835.28h14M1430.68 828.28v14M1425.78 830.38l9.8 9.8M1425.78 840.18l9.8 -9.8" stroke="#0000c8" class="st"/>
<path d="M1444.29 824.94h14M1451.29 817.94v14M1446.39 820.04l9.8 9.8M1446.39 829.84l9.8 -9.8" stroke="#0000c8" class="st"/>
<path d="M1471.23 811.24h14M1478.23 804.24v14M1473.33 806.34l9.8 9.8M1473.33 816.14l9.8 -9.8" stroke="#0000c8" class="st"/>
<path d="M1498.82 797.55h14M1505.82 790.55v14M1500.92 792.65l9.8 9.8M1500.92 802.45l9.8 -9.8" stroke="#0000c8" class="st"/>
<path d="M1519.43 785.84h14M1526.43 778.84v14M1521.53 780.94l9.8 9.8M1521.53 790.74l9.8 -9.8" stroke="#0000c8" class="st"/>
<path d="M1543.03 769.41h14M1550.03 762.41v14M1545.13 764.51l9.8 9.8M1545.13 774.31l9.8 -9.8" stroke="#0000c8" class="st"/>
<path d="M1566.62 750.85h14M1573.62 743.85v14M1568.72 745.95l9.8 9.8M1568.72 755.75l9.8 -9.8" stroke="#0000c8" class="st"/>
<path d="M1584.92 732.14h14M1591.92 725.14v14M1587.02 727.24l9.8 9.8M1587.02 737.04l9.8 -9.8" stroke="#0000c8" class="st"/>
<path d="M1599.87 714.19h14M1606.87 707.19v14M1601.97 709.29l9.8 9.8M1601.97 719.09l9.8 -9.8" stroke="#0000c8" class="st"/>
<path d="M1612.51 694.72h14M1619.51 687.72v14M1614.61 689.82l9.8 9.8M1614.61 699.62l9.8 -9.8" stroke="#0000c8" class="st"/>
<path d="M1623.46 676.01h14M1630.46 669.01v14M1625.56 671.11l9.8 9.8M1625.56 680.91l9.8 -9.8" stroke="#0000c8" class="st"/>
<path d="M1638.41 651.98h14M1645.41 644.98v14M1640.51 647.08l9.8 9.8M1640.51 656.88l9.8 -9.8" stroke="#0000c8" class="st"/>
<path d="M1653.93 620.79h14M1660.93 613.79v14M1656.03 615.89l9.8 9.8M1656.03 625.69l9.8 -9.8" stroke="#0000c8" class="st"/>
<polyline points="1067.33,934.46 1157.42,914.08 1199.31,908.91 1226.91,907.84 1256.16,907.54 1283.75,907.54 1304.36,907.54 1320.81,906.47 1346.25,903.89 1373.84,900.39 1394.45,896.28 1410.91,892.78 1430.68,887.61 1451.29,882.44 1478.23,877.42 1505.82,872.55 1526.43,870.27 1550.03,867.22 1573.62,862.97 1591.92,857.49 1606.87,853.53 1619.51,848.21 1630.46,843.34 1645.41,834.82 1660.93,824.94" class="cs" stroke="#bc3582"/>
<polyline points="1067.33,934.46 1157.42,914.08 1199.31,908.91 1226.91,907.84 1256.16,907.54 1283.75,907.54 1304.36,907.54 1320.81,906.47 1346.25,903.89 1373.84,900.39 1394.45,896.28 1410.91,892.78 1430.68,887.61 1451.29,882.44 1478.23,877.42 1505.82,872.55 1526.43,870.27 1550.03,867.22 1573.62,862.97 1591.92,857.49 1606.87,853.53 1619.51,848.21 1630.46,843.34 1645.41,834.82 1660.93,824.94" class="cd" stroke="#6e0e62"/>
<path d="M1060.33 934.46h14M1067.33 927.46v14M1062.43 929.56l9.8 9.8M1062.43 939.36l9.8 -9.8" stroke="#8000cc" class="st"/>
<path d="M1150.42 914.08h14M1157.42 907.08v14M1152.52 909.18l9.8 9.8M1152.52 918.98l9.8 -9.8" stroke="#8000cc" class="st"/>
<path d="M1192.31 908.91h14M1199.31 901.91v14M1194.41 904.01l9.8 9.8M1194.41 913.81l9.8 -9.8" stroke="#8000cc" class="st"/>
<path d="M1219.91 907.84h14M1226.91 900.84v14M1222.01 902.94l9.8 9.8M1222.01 912.74l9.8 -9.8" stroke="#8000cc" class="st"/>
<path d="M1249.16 907.54h14M1256.16 900.54v14M1251.26 902.64l9.8 9.8M1251.26 912.44l9.8 -9.8" stroke="#8000cc" class="st"/>
<path d="M1276.75 907.54h14M1283.75 900.54v14M1278.85 902.64l9.8 9.8M1278.85 912.44l9.8 -9.8" stroke="#8000cc" class="st"/>
<path d="M1297.36 907.54h14M1304.36 900.54v14M1299.46 902.64l9.8 9.8M1299.46 912.44l9.8 -9.8" stroke="#8000cc" class="st"/>
<path d="M1313.81 906.47h14M1320.81 899.47v14M1315.91 901.57l9.8 9.8M1315.91 911.37l9.8 -9.8" stroke="#8000cc" class="st"/>
<path d="M1339.25 903.89h14M1346.25 896.89v14M1341.35 898.99l9.8 9.8M1341.35 908.79l9.8 -9.8" stroke="#8000cc" class="st"/>
<path d="M1366.84 900.39h14M1373.84 893.39v14M1368.94 895.49l9.8 9.8M1368.94 905.29l9.8 -9.8" stroke="#8000cc" class="st"/>
<path d="M1387.45 896.28h14M1394.45 889.28v14M1389.55 891.38l9.8 9.8M1389.55 901.18l9.8 -9.8" stroke="#8000cc" class="st"/>
<path d="M1403.91 892.78h14M1410.91 885.78v14M1406.01 887.88l9.8 9.8M1406.01 897.68l9.8 -9.8" stroke="#8000cc" class="st"/>
<path d="M1423.68 887.61h14M1430.68 880.61v14M1425.78 882.71l9.8 9.8M1425.78 892.51l9.8 -9.8" stroke="#8000cc" class="st"/>
<path d="M1444.29 882.44h14M1451.29 875.44v14M1446.39 877.54l9.8 9.8M1446.39 887.34l9.8 -9.8" stroke="#8000cc" class="st"/>
<path d="M1471.23 877.42h14M1478.23 870.42v14M1473.33 872.52l9.8 9.8M1473.33 882.32l9.8 -9.8" stroke="#8000cc" class="st"/>
<path d="M1498.82 872.55h14M1505.82 865.55v14M1500.92 867.65l9.8 9.8M1500.92 877.45l9.8 -9.8" stroke="#8000cc" class="st"/>
<path d="M1519.43 870.27h14M1526.43 863.27v14M1521.53 865.37l9.8 9.8M1521.53 875.17l9.8 -9.8" stroke="#8000cc" class="st"/>
<path d="M1543.03 867.22h14M1550.03 860.22v14M1545.13 862.32l9.8 9.8M1545.13 872.12l9.8 -9.8" stroke="#8000cc" class="st"/>
<path d="M1566.62 862.97h14M1573.62 855.97v14M1568.72 858.07l9.8 9.8M1568.72 867.87l9.8 -9.8" stroke="#8000cc" class="st"/>
<path d="M1584.92 857.49h14M1591.92 850.49v14M1587.02 852.59l9.8 9.8M1587.02 862.39l9.8 -9.8" stroke="#8000cc" class="st"/>
<path d="M1599.87 853.53h14M1606.87 846.53v14M1601.97 848.63l9.8 9.8M1601.97 858.43l9.8 -9.8" stroke="#8000cc" class="st"/>
<path d="M1612.51 848.21h14M1619.51 841.21v14M1614.61 843.31l9.8 9.8M1614.61 853.11l9.8 -9.8" stroke="#8000cc" class="st"/>
<path d="M1623.46 843.34h14M1630.46 836.34v14M1625.56 838.44l9.8 9.8M1625.56 848.24l9.8 -9.8" stroke="#8000cc" class="st"/>
<path d="M1638.41 834.82h14M1645.41 827.82v14M1640.51 829.92l9.8 9.8M1640.51 839.72l9.8 -9.8" stroke="#8000cc" class="st"/>
<path d="M1653.93 824.94h14M1660.93 817.94v14M1656.03 820.04l9.8 9.8M1656.03 829.84l9.8 -9.8" stroke="#8000cc" class="st"/>
<path d="M950.3 962.3v-8M950.3 582v8M1007.14 962.3v-4M1007.14 582v4M1040.39 962.3v-4M1040.39 582v4M1063.98 962.3v-4M1063.98 582v4M1082.28 962.3v-4M1082.28 582v4M1097.23 962.3v-4M1097.23 582v4M1109.88 962.3v-4M1109.88 582v4M1120.83 962.3v-4M1120.83 582v4M1130.48 962.3v-4M1130.48 582v4M1139.12 962.3v-8M1139.12 582v8M1195.97 962.3v-4M1195.97 582v4M1229.22 962.3v-4M1229.22 582v4M1252.81 962.3v-4M1252.81 582v4M1271.11 962.3v-4M1271.11 582v4M1286.06 962.3v-4M1286.06 582v4M1298.7 962.3v-4M1298.7 582v4M1309.65 962.3v-4M1309.65 582v4M1319.31 962.3v-4M1319.31 582v4M1327.95 962.3v-8M1327.95 582v8M1384.79 962.3v-4M1384.79 582v4M1418.04 962.3v-4M1418.04 582v4M1441.63 962.3v-4M1441.63 582v4M1459.93 962.3v-4M1459.93 582v4M1474.88 962.3v-4M1474.88 582v4M1487.53 962.3v-4M1487.53 582v4M1498.48 962.3v-4M1498.48 582v4M1508.13 962.3v-4M1508.13 582v4M1516.77 962.3v-8M1516.77 582v8M1573.62 962.3v-4M1573.62 582v4M1606.87 962.3v-4M1606.87 582v4M1630.46 962.3v-4M1630.46 582v4M1648.76 962.3v-4M1648.76 582v4M1663.71 962.3v-4M1663.71 582v4M1676.35 962.3v-4M1676.35 582v4M1687.3 962.3v-4M1687.3 582v4M1696.96 962.3v-4M1696.96 582v4M1705.6 962.3v-8M1705.6 582v8M950.3 962.3h8M1705.6 962.3h-8M950.3 886.24h8M1705.6 886.24h-8M950.3 810.18h8M1705.6 810.18h-8M950.3 734.12h8M1705.6 734.12h-8M950.3 658.06h8M1705.6 658.06h-8M950.3 582h8M1705.6 582h-8" class="tk"/>
<rect x="950.3" y="582" width="755.3" height="380.3" class="box"/>
<text x="940.3" y="971.3" class="tl" text-anchor="end">0</text>
<text x="940.3" y="895.24" class="tl" text-anchor="end">0.5</text>
<text x="940.3" y="819.18" class="tl" text-anchor="end">1</text>
<text x="940.3" y="743.12" class="tl" text-anchor="end">1.5</text>
<text x="940.3" y="667.06" class="tl" text-anchor="end">2</text>
<text x="940.3" y="591" class="tl" text-anchor="end">2.5</text>
<text x="948.5" y="1005.6" class="tl" text-anchor="middle">10<tspan dy="-12" class="sup">-2</tspan></text>
<text x="1137.33" y="1005.6" class="tl" text-anchor="middle">10<tspan dy="-12" class="sup">-1</tspan></text>
<text x="1327.95" y="1005.6" class="tl" text-anchor="middle">10<tspan dy="-12" class="sup">0</tspan></text>
<text x="1516.77" y="1005.6" class="tl" text-anchor="middle">10<tspan dy="-12" class="sup">1</tspan></text>
<text x="1705.6" y="1005.6" class="tl" text-anchor="middle">10<tspan dy="-12" class="sup">2</tspan></text>
<text x="1327.95" y="1045" class="xl" text-anchor="middle" textLength="135" lengthAdjust="spacingAndGlyphs">Time (min)</text>
<rect x="962.7" y="595.5" width="483.2" height="167.7" class="lgb"/>
<line x1="967.9" y1="610.2" x2="1014.2" y2="610.2" stroke="#d95319" class="ls"/>
<line x1="967.9" y1="637.8" x2="1014.2" y2="637.8" stroke="#821a3e" class="ld"/>
<path d="M984.1 665.4h14M991.1 658.4v14M986.2 660.5l9.8 9.8M986.2 670.3l9.8 -9.8" stroke="#d40000" class="st"/>
<text x="1017.8" y="617.7" class="lt" textLength="124.1" lengthAdjust="spacingAndGlyphs">recon.: frontal</text>
<text x="1017.8" y="645.3" class="lt" textLength="142.1" lengthAdjust="spacingAndGlyphs">gr. truth: frontal</text>
<text x="1017.8" y="672.9" class="lt" textLength="121.5" lengthAdjust="spacingAndGlyphs">meas.: frontal</text>
<line x1="967.9" y1="693" x2="1014.2" y2="693" stroke="#9ec040" class="ls"/>
<line x1="967.9" y1="720.6" x2="1014.2" y2="720.6" stroke="#0a7a1a" class="ld"/>
<path d="M984.1 748.2h14M991.1 741.2v14M986.2 743.3l9.8 9.8M986.2 753.1l9.8 -9.8" stroke="#0b5e14" class="st"/>
<text x="1017.8" y="700.5" class="lt" textLength="145" lengthAdjust="spacingAndGlyphs">recon.: temporal</text>
<text x="1017.8" y="728.1" class="lt" textLength="163.9" lengthAdjust="spacingAndGlyphs">gr. truth: temporal</text>
<text x="1017.8" y="755.7" class="lt" textLength="142.1" lengthAdjust="spacingAndGlyphs">meas.: temporal</text>
<line x1="1193.6" y1="610.2" x2="1240.2" y2="610.2" stroke="#1cc0bc" class="ls"/>
<line x1="1193.6" y1="637.8" x2="1240.2" y2="637.8" stroke="#000080" class="ld"/>
<path d="M1209.9 665.4h14M1216.9 658.4v14M1212 660.5l9.8 9.8M1212 670.3l9.8 -9.8" stroke="#0000c8" class="st"/>
<text x="1243.5" y="617.7" class="lt" textLength="136.9" lengthAdjust="spacingAndGlyphs">recon.: occipital</text>
<text x="1243.5" y="645.3" class="lt" textLength="155.8" lengthAdjust="spacingAndGlyphs">gr. truth: occipital</text>
<text x="1243.5" y="672.9" class="lt" textLength="134.9" lengthAdjust="spacingAndGlyphs">meas.: occipital</text>
<line x1="1193.6" y1="693" x2="1240.2" y2="693" stroke="#bc3582" class="ls"/>
<line x1="1193.6" y1="720.6" x2="1240.2" y2="720.6" stroke="#6e0e62" class="ld"/>
<path d="M1209.9 748.2h14M1216.9 741.2v14M1212 743.3l9.8 9.8M1212 753.1l9.8 -9.8" stroke="#8000cc" class="st"/>
<text x="1243.5" y="700.5" class="lt" textLength="178.9" lengthAdjust="spacingAndGlyphs">recon.: white matter</text>
<text x="1243.5" y="728.1" class="lt" textLength="196.6" lengthAdjust="spacingAndGlyphs">gr. truth: white matter</text>
<text x="1243.5" y="755.7" class="lt" textLength="175.5" lengthAdjust="spacingAndGlyphs">meas.: white matter</text>
<text x="215" y="29" class="ti" textLength="377.5" lengthAdjust="spacingAndGlyphs">Parent plasma fraction</text>
<text x="609.5" y="29" class="ti it">f</text>
<text x="941.8" y="27.9" class="ti" textLength="667.7" lengthAdjust="spacingAndGlyphs">Total arterial blood tracer concentration</text>
<text x="1622.5" y="27.9" class="ti it">C</text>
<text x="1650" y="33.4" class="ti it" style="font-size:26px" textLength="48.5" lengthAdjust="spacingAndGlyphs">WB</text>
<text x="212.7" y="560.4" class="ti" textLength="355.6" lengthAdjust="spacingAndGlyphs">Plasma concentration</text>
<text x="580" y="560.4" class="ti it">C</text>
<text x="606" y="566.2" class="ti it" style="font-size:26px" textLength="22" lengthAdjust="spacingAndGlyphs">P</text>
<text x="1063.9" y="560.4" class="ti" textLength="428.5" lengthAdjust="spacingAndGlyphs">Tissue time activity curve</text>
<text x="1503.8" y="560.4" class="ti it">C</text>
<text x="1530.5" y="566" class="ti it" style="font-size:26px" textLength="62.1" lengthAdjust="spacingAndGlyphs">PET</text>
</svg></body></html>
